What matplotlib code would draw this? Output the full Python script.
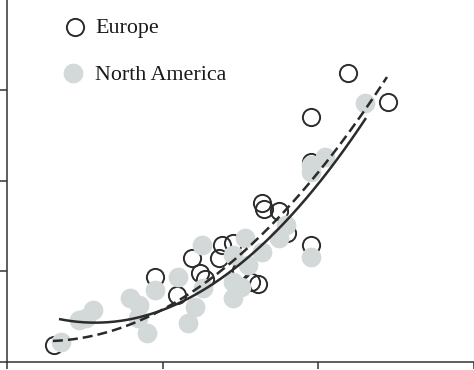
import numpy as np
import matplotlib
matplotlib.use("Agg")
import matplotlib.pyplot as plt

# ---- data (arbitrary units; ticks at integers) ----
europe_x = [0.30, 0.95, 1.09, 1.19, 1.24, 1.27, 1.36, 1.38, 1.45, 1.50, 1.57, 1.61,
            1.64, 1.65, 1.75, 1.80, 1.95, 1.95, 1.95, 2.19, 2.45]
europe_y = [0.19, 0.94, 0.74, 1.15, 0.98, 0.92, 1.15, 1.29, 1.31, 1.01, 0.88, 0.86,
            1.75, 1.69, 1.67, 1.42, 1.29, 2.70, 2.21, 3.19, 2.87]

na_x = [0.35, 0.46, 0.51, 0.55, 0.79, 0.85, 0.84, 0.90, 0.95, 1.10, 1.16, 1.21,
        1.26, 1.25, 1.45, 1.45, 1.50, 1.45, 1.53, 1.64, 1.55, 1.75, 1.79, 1.95,
        1.95, 1.95, 2.04, 2.30]
na_y = [0.22, 0.46, 0.49, 0.57, 0.71, 0.63, 0.49, 0.32, 0.79, 0.94, 0.43, 0.61,
        0.82, 1.29, 0.88, 0.71, 0.83, 1.18, 1.37, 1.21, 1.07, 1.37, 1.51, 1.16,
        2.17, 2.10, 2.26, 2.86]

# quadratic fit coefficients (a, b, c) and x-range for each trend line
na_fit = (0.7456, -0.8447, 0.673)
na_range = (0.334, 2.306)
eu_fit = (0.5997, -0.2848, 0.2638)
eu_range = (0.295, 2.441)

x_ticks = [0, 1, 2, 3]
y_ticks = [0, 1, 2, 3]
legend_labels = ["Europe", "North America"]

# ---- styling ----
W, H = 474, 370
DPI = 100
dark = "#2b2b2b"
gray = "#d3d9d9"

fig = plt.figure(figsize=(W / DPI, H / DPI), dpi=DPI)
left_px, bottom_px = 7, 8
ax = fig.add_axes([left_px / W, bottom_px / H, (W - left_px) / W, (H - bottom_px) / H])
ax.set_xlim(0, (W - left_px) / 155.7)
ax.set_ylim(0, (H - bottom_px) / 90.7)

for s in ["top", "right"]:
    ax.spines[s].set_visible(False)
for s in ["left", "bottom"]:
    ax.spines[s].set_color("#333333")
    ax.spines[s].set_linewidth(1.1)
ax.set_xticks(x_ticks)
ax.set_yticks(y_ticks)
ax.tick_params(direction="out", length=5.2, width=1.1, color="#333333",
               labelleft=False, labelbottom=False)

# points
ax.plot(europe_x, europe_y, linestyle="none", marker="o", markersize=12.4,
        markerfacecolor="none", markeredgecolor=dark, markeredgewidth=1.4,
        zorder=2, clip_on=False)
ax.plot(na_x, na_y, linestyle="none", marker="o", markersize=14.2,
        markerfacecolor=gray, markeredgecolor="none", zorder=3, clip_on=False)

# trend lines
xs = np.linspace(*na_range, 200)
a, b, c = na_fit
ax.plot(xs, a * xs**2 + b * xs + c, color=dark, lw=1.8, zorder=4,
        solid_capstyle="butt")
xs = np.linspace(*eu_range, 200)
a, b, c = eu_fit
ax.plot(xs, a * xs**2 + b * xs + c, color=dark, lw=1.8, zorder=4,
        linestyle=(0, (4, 2)), dash_capstyle="butt")

# legend (manual)
def fx(px):
    return px / W

def fy(py):
    return 1 - py / H

ax.plot([fx(75)], [fy(27)], transform=fig.transFigure, marker="o",
        markersize=12.4, markerfacecolor="none", markeredgecolor=dark,
        markeredgewidth=1.4, clip_on=False, linestyle="none")
ax.plot([fx(73)], [fy(73)], transform=fig.transFigure, marker="o",
        markersize=14.2, markerfacecolor=gray, markeredgecolor="none",
        clip_on=False, linestyle="none")
fig.text(fx(95), fy(33), legend_labels[0], family="Liberation Serif",
         fontsize=15.8, color="#1a1a1a", va="baseline", ha="left")
fig.text(fx(95), fy(80), legend_labels[1], family="Liberation Serif",
         fontsize=15.8, color="#1a1a1a", va="baseline", ha="left")

fig.savefig("out.png", dpi=DPI)
